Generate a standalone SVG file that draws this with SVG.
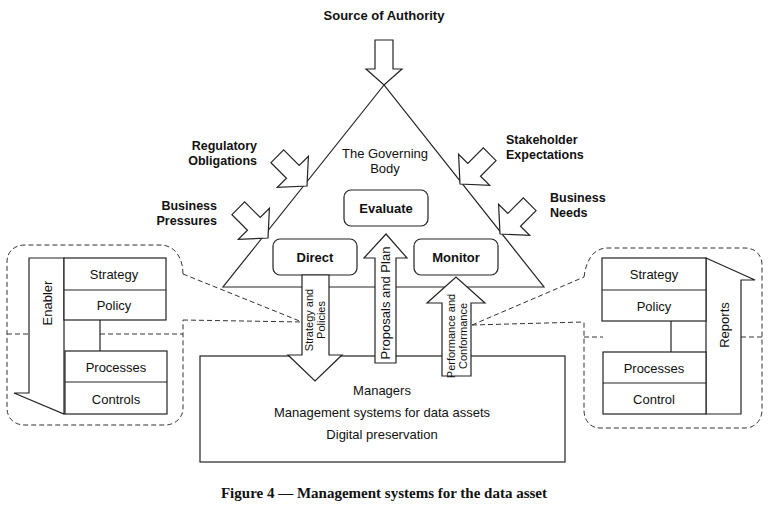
<svg xmlns="http://www.w3.org/2000/svg" width="768" height="506" viewBox="0 0 768 506">
<style>
.s{fill:#fff;stroke:#222;stroke-width:1.2}
.d{fill:none;stroke:#333;stroke-width:1;stroke-dasharray:5,3}
.t{font-family:"Liberation Sans",Arial,sans-serif;font-size:13px;fill:#111}
.b{font-weight:bold}
.m{text-anchor:middle}
.r{text-anchor:end}
.v{font-size:11px}
.l{font-size:12.5px}
</style>
<defs>
<polygon id="ba" points="-42,-9 -20,-9 -20,-22 0,0 -20,22 -20,9 -42,9" class="s"/>
</defs>
<rect width="768" height="506" fill="#fff"/>
<g id="connectors">
<path class="d" d="M183,274 L302,322 M183,320 L302,322"/>
<path class="d" d="M472,325 L584,277 M472,325 L584,322"/>
</g>
<g id="triangle">
<polygon class="s" points="384,85 223,287 544,287"/>
<text class="t m" x="385" y="158" font-size="14">The Governing</text>
<text class="t m" x="385" y="173" font-size="14">Body</text>
</g>
<g id="source">
<polygon class="s" points="375,40 393,40 393,69 402,69 384,85 366,69 375,69"/>
<text class="t b m" x="384" y="20">Source of Authority</text>
</g>
<g id="regulatory"><use href="#ba" transform="translate(307,186) rotate(45)"/>
<text class="t b l r" x="257" y="150">Regulatory</text><text class="t b l r" x="257" y="165">Obligations</text></g>
<g id="pressures"><use href="#ba" transform="translate(268,238) rotate(45)"/>
<text class="t b l r" x="217" y="210">Business</text><text class="t b l r" x="217" y="225">Pressures</text></g>
<g id="stakeholder"><use href="#ba" transform="translate(460,184) rotate(135)"/>
<text class="t b l" x="506" y="144">Stakeholder</text><text class="t b l" x="506" y="159">Expectations</text></g>
<g id="needs"><use href="#ba" transform="translate(500,234) rotate(135)"/>
<text class="t b l" x="550" y="202">Business</text><text class="t b l" x="550" y="217">Needs</text></g>
<g id="evaluate"><rect class="s" x="344" y="190" width="84" height="36" rx="7"/><text class="t b m" x="386" y="213">Evaluate</text></g>
<g id="direct"><rect class="s" x="273" y="239" width="84" height="36" rx="7"/><text class="t b m" x="315" y="262">Direct</text></g>
<g id="monitor"><rect class="s" x="414" y="239" width="84" height="36" rx="7"/><text class="t b m" x="456" y="262">Monitor</text></g>
<g id="managers">
<rect class="s" x="200" y="356" width="365" height="106"/>
<text class="t m" x="382" y="395" font-size="14">Managers</text>
<text class="t m" x="382" y="417" font-size="14">Management systems for data assets</text>
<text class="t m" x="382" y="439" font-size="14">Digital preservation</text>
</g>
<g id="strategy-arrow">
<polygon class="s" points="302,275 329,275 329,355 342,355 315,381 288,355 302,355"/>
<text class="t v m" transform="translate(313,320) rotate(-90)">Strategy and</text>
<text class="t v m" transform="translate(325,320) rotate(-90)">Policies</text>
</g>
<g id="proposals-arrow">
<polygon class="s" points="375,363 396,363 396,258 407,258 386,234 364,258 375,258"/>
<text class="t m" transform="translate(390,303) rotate(-90)" font-size="12">Proposals and Plan</text>
</g>
<g id="performance-arrow">
<polygon class="s" points="442,376 471,376 471,303 485,303 456,277 427,303 442,303"/>
<text class="t v m" transform="translate(455,336) rotate(-90)">Performance and</text>
<text class="t v m" transform="translate(467,336) rotate(-90)">Conformance</text>
</g>
<g id="left-panel">
<path class="d" d="M183,274 C183,258 175,245 160,245 L25,245 C14,245 7,252 7,262 L7,408 C7,418 14,425 25,425 L165,425 C175,425 183,418 183,408 L183,320"/>
<path class="d" d="M7,334 L29,334 M100,334 L183,334"/>
<polygon class="s" points="29,258 64,258 64,414 14,393 29,393"/>
<text class="t m" transform="translate(52,303) rotate(-90)" font-size="14">Enabler</text>
<line x1="100" y1="320" x2="100" y2="351" stroke="#222" stroke-width="1.2"/>
<rect class="s" x="64" y="258" width="102" height="62"/><line x1="64" y1="290" x2="166" y2="290" stroke="#222" stroke-width="1.2"/>
<text class="t m" x="114" y="279" font-size="14">Strategy</text><text class="t m" x="114" y="310" font-size="14">Policy</text>
<rect class="s" x="65" y="351" width="102" height="63"/><line x1="65" y1="382" x2="167" y2="382" stroke="#222" stroke-width="1.2"/>
<text class="t m" x="116" y="372" font-size="14">Processes</text><text class="t m" x="116" y="404" font-size="14">Controls</text>
</g>
<g id="right-panel">
<path class="d" d="M584,277 C586,262 592,248 608,248 L745,248 C755,248 762,255 762,265 L762,410 C762,420 755,428 745,428 L600,428 C590,428 584,420 584,410 L584,322"/>
<path class="d" d="M584,337 L603,337 M706,337 L741,337 M741,337 L762,337"/>
<polygon class="s" points="706,258 755,280 741,280 741,414 706,414"/>
<text class="t m" transform="translate(729,325) rotate(-90)" font-size="14">Reports</text>
<line x1="671" y1="321" x2="671" y2="352" stroke="#222" stroke-width="1.2"/>
<rect class="s" x="602" y="258" width="104" height="63"/><line x1="602" y1="290" x2="706" y2="290" stroke="#222" stroke-width="1.2"/>
<text class="t m" x="654" y="279" font-size="14">Strategy</text><text class="t m" x="654" y="311" font-size="14">Policy</text>
<rect class="s" x="603" y="352" width="103" height="62"/><line x1="603" y1="383" x2="706" y2="383" stroke="#222" stroke-width="1.2"/>
<text class="t m" x="654" y="373" font-size="14">Processes</text><text class="t m" x="654" y="404" font-size="14">Control</text>
</g>
<text x="384" y="498" text-anchor="middle" font-family="'Liberation Serif',serif" font-weight="bold" font-size="15" fill="#111">Figure 4 — Management systems for the data asset</text>
</svg>
